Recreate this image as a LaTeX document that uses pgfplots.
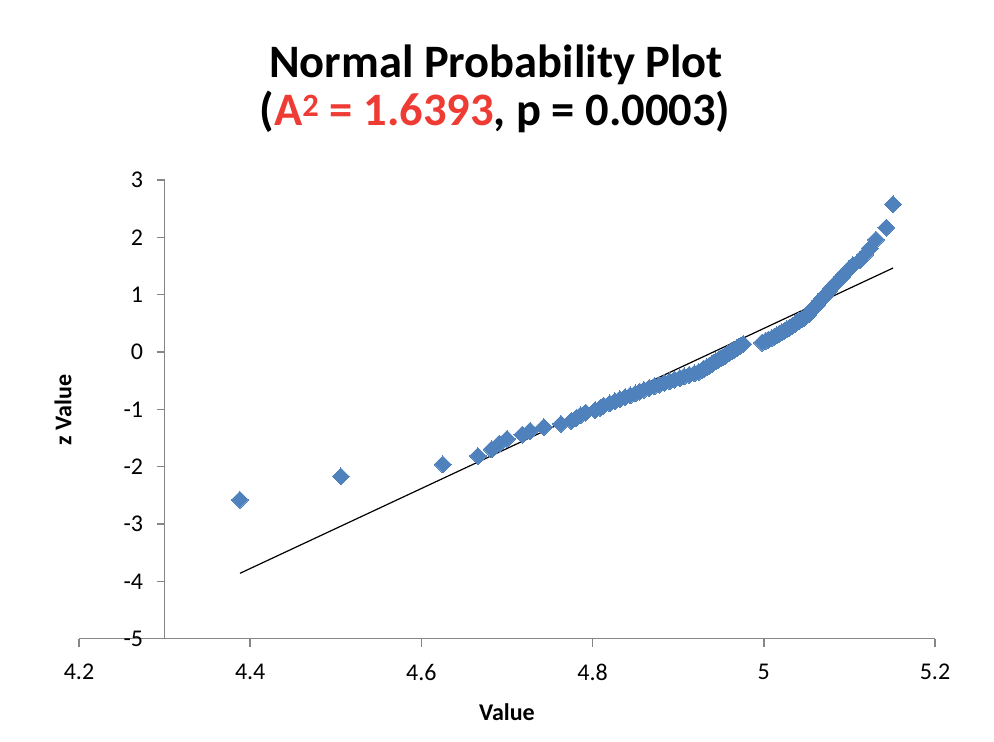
\documentclass[border=0pt]{standalone}
\usepackage{fontspec}
\setmainfont{Carlito}
\usepackage{pgfplots}
\pgfplotsset{compat=1.18}
\usepackage{pgfplotstable}
\definecolor{seriesblue}{HTML}{4F81BD}
\definecolor{axisgray}{HTML}{868686}
\definecolor{titlered}{HTML}{EE3B33}

% sorted sample values and their normal scores
\pgfplotstableread{
x z
4.388 -2.5758
4.506 -2.1701
4.625 -1.9600
4.666 -1.8119
4.682 -1.6954
4.691 -1.5982
4.700 -1.5141
4.718 -1.4395
4.727 -1.3722
4.743 -1.3106
4.763 -1.2536
4.775 -1.2004
4.781 -1.1503
4.786 -1.1031
4.792 -1.0581
4.803 -1.0152
4.809 -0.9741
4.813 -0.9346
4.820 -0.8965
4.826 -0.8596
4.832 -0.8239
4.838 -0.7892
4.844 -0.7554
4.850 -0.7225
4.855 -0.6903
4.860 -0.6588
4.866 -0.6280
4.872 -0.5978
4.878 -0.5681
4.884 -0.5388
4.890 -0.5101
4.896 -0.4817
4.902 -0.4538
4.907 -0.4261
4.913 -0.3989
4.919 -0.3719
4.924 -0.3451
4.928 -0.3186
4.930 -0.2924
4.933 -0.2663
4.936 -0.2404
4.939 -0.2147
4.941 -0.1891
4.944 -0.1637
4.947 -0.1383
4.949 -0.1130
4.952 -0.0878
4.955 -0.0627
4.957 -0.0376
4.960 -0.0125
4.962 0.0125
4.965 0.0376
4.968 0.0627
4.970 0.0878
4.973 0.1130
4.976 0.1383
4.998 0.1637
5.002 0.1891
5.005 0.2147
5.009 0.2404
5.012 0.2663
5.015 0.2924
5.018 0.3186
5.021 0.3451
5.024 0.3719
5.027 0.3989
5.030 0.4261
5.033 0.4538
5.036 0.4817
5.038 0.5101
5.041 0.5388
5.044 0.5681
5.047 0.5978
5.049 0.6280
5.052 0.6588
5.054 0.6903
5.056 0.7225
5.057 0.7554
5.060 0.7892
5.062 0.8239
5.064 0.8596
5.066 0.8965
5.068 0.9346
5.071 0.9741
5.073 1.0152
5.076 1.0581
5.078 1.1031
5.081 1.1503
5.084 1.2004
5.088 1.2536
5.091 1.3106
5.095 1.3722
5.099 1.4395
5.104 1.5141
5.112 1.5982
5.118 1.6954
5.124 1.8119
5.131 1.9600
5.143 2.1701
5.151 2.5758
}\scores

\begin{document}
\begin{tikzpicture}
\useasboundingbox (0,0) rectangle (994bp,742bp);
\begin{axis}[
  at={(79bp,103.3bp)}, anchor=south west,
  scale only axis, width=856bp, height=458.7bp,
  xmin=4.2, xmax=5.2, ymin=-5, ymax=3,
  axis x line=bottom, axis y line=left,
  axis y line shift=-85.6bp,
  axis line style={-, draw=axisgray, line width=1.6bp},
  xtick={4.2,4.4,4.6,4.8,5,5.2},
  ytick={-5,-4,-3,-2,-1,0,1,2,3},
  tick align=outside, major tick length=8bp,
  tick style={draw=axisgray, line width=1.6bp},
  ticklabel style={font=\fontsize{24bp}{28bp}\selectfont, text=black},
  xticklabel style={yshift=-14bp},
  yticklabel style={xshift=-10bp},
  /pgf/number format/assume math mode=true,
  clip=false,
]
% fitted normal line
\addplot[black, line width=1.2bp] coordinates {(4.388,-3.86) (5.151,1.465)};
\addplot[only marks, mark=square*, mark size=6bp,
  mark options={rotate=45, fill=seriesblue, draw=seriesblue, line width=0pt}]
  table[x=x, y=z] {\scores};
\end{axis}
\node[font=\bfseries\fontsize{46.5bp}{52bp}\selectfont] at (496bp,677bp) {Normal Probability Plot};
\node[font=\bfseries\fontsize{46.5bp}{52bp}\selectfont] at (495bp,630bp)
  {(\textcolor{titlered}{A\textsuperscript{2} = 1.6393}, p = 0.0003)};
\node[font=\bfseries\fontsize{24bp}{28bp}\selectfont, rotate=90] at (63bp,332bp) {z Value};
\node[font=\bfseries\fontsize{24bp}{28bp}\selectfont] at (507bp,30bp) {Value};
\end{tikzpicture}
\end{document}
